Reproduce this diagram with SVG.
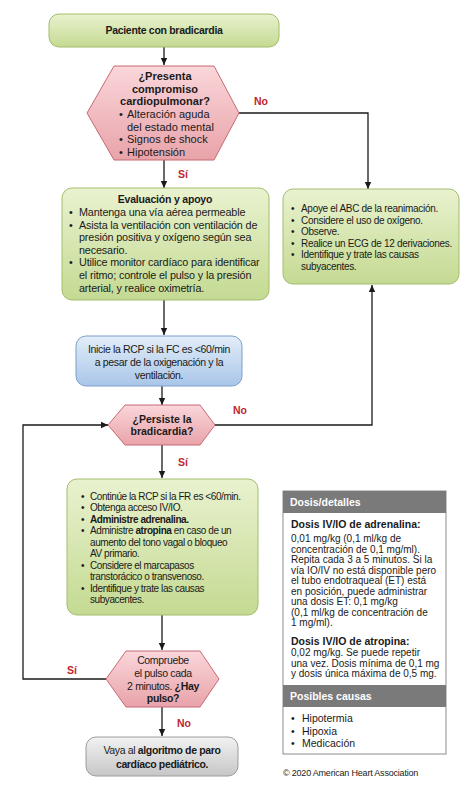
<svg xmlns="http://www.w3.org/2000/svg" width="474" height="788" viewBox="0 0 474 788">
<defs>
<linearGradient id="gGreen" x1="0" y1="0" x2="0" y2="1">
<stop offset="0" stop-color="#e9f2cf"/><stop offset="1" stop-color="#c4da92"/>
</linearGradient>
<linearGradient id="gPink" x1="0" y1="0" x2="0" y2="1">
<stop offset="0" stop-color="#fad6da"/><stop offset="1" stop-color="#e8a3a9"/>
</linearGradient>
<linearGradient id="gBlue" x1="0" y1="0" x2="0" y2="1">
<stop offset="0" stop-color="#e2edf9"/><stop offset="1" stop-color="#a9c6e8"/>
</linearGradient>
<linearGradient id="gGray" x1="0" y1="0" x2="0" y2="1">
<stop offset="0" stop-color="#f2f2f2"/><stop offset="1" stop-color="#c6c6c6"/>
</linearGradient>
<marker id="arr" markerWidth="8" markerHeight="8" refX="7" refY="4" orient="auto" markerUnits="userSpaceOnUse">
<path d="M0,0.8 L7,4 L0,7.2 z" fill="#1a1a1a"/>
</marker>
</defs>
<style>
text{font-family:"Liberation Sans",Arial,sans-serif;fill:#1a1a1a}
.b{font-weight:bold}
.green{fill:url(#gGreen);stroke:#a3bd6c;stroke-width:1}
.pink{fill:url(#gPink);stroke:#c66b74;stroke-width:1}
.blue{fill:url(#gBlue);stroke:#7d9fcb;stroke-width:1}
.gray{fill:url(#gGray);stroke:#9c9c9c;stroke-width:1}
.t11{font-size:11px}
.t105c{font-size:10.5px;letter-spacing:-0.35px}
.t10c{font-size:10px;letter-spacing:-0.3px}
.t10n{font-size:10px;letter-spacing:-0.42px}
.t10{font-size:10px}
.lbl{font-size:10.5px;font-weight:bold;fill:#c0262d}
.hdr{font-size:10.5px;font-weight:bold;fill:#ffffff}
.mid{text-anchor:middle}
.conn{fill:none;stroke:#1a1a1a;stroke-width:1.3}
</style>
<rect width="474" height="788" fill="#ffffff"/>

<g id="connectors">
<path class="conn" d="M164,47 V65" marker-end="url(#arr)"/>
<path class="conn" d="M239,113 H368 V189" marker-end="url(#arr)"/>
<path class="conn" d="M164,160 V188" marker-end="url(#arr)"/>
<path class="conn" d="M164,300 V335" marker-end="url(#arr)"/>
<path class="conn" d="M162,386 V405" marker-end="url(#arr)"/>
<path class="conn" d="M215,425 H372 V285" marker-end="url(#arr)"/>
<path class="conn" d="M162,445 V478" marker-end="url(#arr)"/>
<path class="conn" d="M162,615 V650" marker-end="url(#arr)"/>
<path class="conn" d="M106,679 H23 V425 H108" marker-end="url(#arr)"/>
<path class="conn" d="M162,707 V736" marker-end="url(#arr)"/>
<text class="lbl mid" x="261" y="105">No</text>
<text class="lbl mid" x="183" y="178">Sí</text>
<text class="lbl mid" x="240" y="414">No</text>
<text class="lbl mid" x="183" y="466">Sí</text>
<text class="lbl mid" x="72" y="674">Sí</text>
<text class="lbl mid" x="184" y="727">No</text>
</g>

<g id="start">
<rect class="green" x="49" y="14" width="230" height="33" rx="10"/>
<text class="b mid" x="164" y="34" style="font-size:10.5px;letter-spacing:-0.3px">Paciente con bradicardia</text>
</g>

<g id="decision-compromiso">
<polygon class="pink" points="87,113 114,66 214,66 239,113 214,160 114,160"/>
<text class="b t11 mid" x="165" y="80">¿Presenta</text>
<text class="b t11 mid" x="165" y="92.5">compromiso</text>
<text class="b t11 mid" x="165" y="105">cardiopulmonar?</text>
<text class="t11" x="119" y="118">•</text>
<text class="t11" x="127" y="118">Alteración aguda</text>
<text class="t11" x="127" y="131">del estado mental</text>
<text class="t11" x="119" y="143">•</text>
<text class="t11" x="127" y="143">Signos de shock</text>
<text class="t11" x="119" y="156">•</text>
<text class="t11" x="127" y="156">Hipotensión</text>
</g>

<g id="evaluacion">
<rect class="green" x="62" y="188" width="207" height="112" rx="10"/>
<text class="b mid" x="165" y="203" style="font-size:10.5px;letter-spacing:-0.2px">Evaluación y apoyo</text>
<g style="font-size:10.8px;letter-spacing:-0.15px">
<text x="69" y="216">•</text><text x="79" y="216">Mantenga una vía aérea permeable</text>
<text x="69" y="228.6">•</text><text x="79" y="228.6">Asista la ventilación con ventilación de</text>
<text x="79" y="241.2">presión positiva y oxígeno según sea</text>
<text x="79" y="253.8">necesario.</text>
<text x="69" y="266.4">•</text><text x="79" y="266.4">Utilice monitor cardíaco para identificar</text>
<text x="79" y="279">el ritmo; controle el pulso y la presión</text>
<text x="79" y="291.6">arterial, y realice oximetría.</text>
</g>
</g>

<g id="apoye">
<rect class="green" x="283" y="189" width="176" height="95" rx="10"/>
<g class="t10c">
<text x="291" y="212">•</text><text x="301" y="212">Apoye el ABC de la reanimación.</text>
<text x="291" y="223.5">•</text><text x="301" y="223.5">Considere el uso de oxígeno.</text>
<text x="291" y="235">•</text><text x="301" y="235">Observe.</text>
<text x="291" y="246.5">•</text><text x="301" y="246.5">Realice un ECG de 12 derivaciones.</text>
<text x="291" y="258">•</text><text x="301" y="258">Identifique y trate las causas</text>
<text x="301" y="269.5">subyacentes.</text>
</g>
</g>

<g id="rcp">
<rect class="blue" x="76" y="336" width="166" height="50" rx="10"/>
<g class="t105c mid">
<text x="159" y="353">Inicie la RCP si la FC es &lt;60/min</text>
<text x="159" y="366">a pesar de la oxigenación y la</text>
<text x="159" y="378.5">ventilación.</text>
</g>
</g>

<g id="decision-persiste">
<polygon class="pink" points="108,425 125,405 200,405 215,425 200,445 125,445"/>
<text class="b mid" x="162" y="423" style="font-size:10.5px">¿Persiste la</text>
<text class="b mid" x="162" y="435" style="font-size:10.5px">bradicardia?</text>
</g>

<g id="tratamiento">
<rect class="green" x="67" y="479" width="191" height="136" rx="10"/>
<g class="t10n">
<text x="81" y="499.5">•</text><text x="90" y="499.5">Continúe la RCP si la FR es &lt;60/min.</text>
<text x="81" y="511">•</text><text x="90" y="511">Obtenga acceso IV/IO.</text>
<text x="81" y="522.5">•</text><text x="90" y="522.5" class="b">Administre adrenalina.</text>
<text x="81" y="534">•</text><text x="90" y="534">Administre <tspan class="b">atropina</tspan> en caso de un</text>
<text x="90" y="545.5">aumento del tono vagal o bloqueo</text>
<text x="90" y="557">AV primario.</text>
<text x="81" y="568.5">•</text><text x="90" y="568.5">Considere el marcapasos</text>
<text x="90" y="580">transtorácico o transvenoso.</text>
<text x="81" y="591.5">•</text><text x="90" y="591.5">Identifique y trate las causas</text>
<text x="90" y="603">subyacentes.</text>
</g>
</g>

<g id="decision-pulso">
<polygon class="pink" points="106,679 126,651 200,651 219,679 200,707 126,707"/>
<g class="t105c mid">
<text x="163" y="664">Compruebe</text>
<text x="163" y="676.5">el pulso cada</text>
<text x="163" y="689.5">2 minutos. <tspan class="b">¿Hay</tspan></text>
<text x="163" y="702" class="b">pulso?</text>
</g>
</g>

<g id="paro">
<rect class="gray" x="86" y="737" width="152" height="39" rx="10"/>
<g class="t105c mid">
<text x="162" y="754">Vaya al <tspan class="b">algoritmo de paro</tspan></text>
<text x="162" y="768" class="b">cardíaco pediátrico.</text>
</g>
</g>

<g id="dosis">
<rect x="283" y="491" width="163" height="263" fill="#ffffff" stroke="#8c8c8c" stroke-width="1"/>
<rect x="283" y="491" width="163" height="22" fill="#7a7a7a"/>
<text class="hdr" x="290" y="506">Dosis/detalles</text>
<text class="b" x="291" y="528" style="font-size:10.5px">Dosis IV/IO de adrenalina:</text>
<g class="t10">
<text x="291" y="542">0,01 mg/kg (0,1 ml/kg de</text>
<text x="291" y="552.5">concentración de 0,1 mg/ml).</text>
<text x="291" y="563">Repita cada 3 a 5 minutos. Si la</text>
<text x="291" y="573.5">vía IO/IV no está disponible pero</text>
<text x="291" y="584">el tubo endotraqueal (ET) está</text>
<text x="291" y="594.5">en posición, puede administrar</text>
<text x="291" y="605">una dosis ET: 0,1 mg/kg</text>
<text x="291" y="615.5">(0,1 ml/kg de concentración de</text>
<text x="291" y="626">1 mg/ml).</text>
</g>
<text class="b" x="291" y="645" style="font-size:10.5px">Dosis IV/IO de atropina:</text>
<g class="t10">
<text x="291" y="656">0,02 mg/kg. Se puede repetir</text>
<text x="291" y="666.5">una vez. Dosis mínima de 0,1 mg</text>
<text x="291" y="677">y dosis única máxima de 0,5 mg.</text>
</g>
<rect x="283" y="685" width="163" height="22" fill="#7a7a7a"/>
<text class="hdr" x="290" y="700">Posibles causas</text>
<g style="font-size:10.5px">
<text x="291" y="722">•</text><text x="302" y="722">Hipotermia</text>
<text x="291" y="735">•</text><text x="302" y="735">Hipoxia</text>
<text x="291" y="747">•</text><text x="302" y="747">Medicación</text>
</g>
</g>

<text x="283" y="776" style="font-size:9px;letter-spacing:-0.2px">© 2020 American Heart Association</text>
</svg>
